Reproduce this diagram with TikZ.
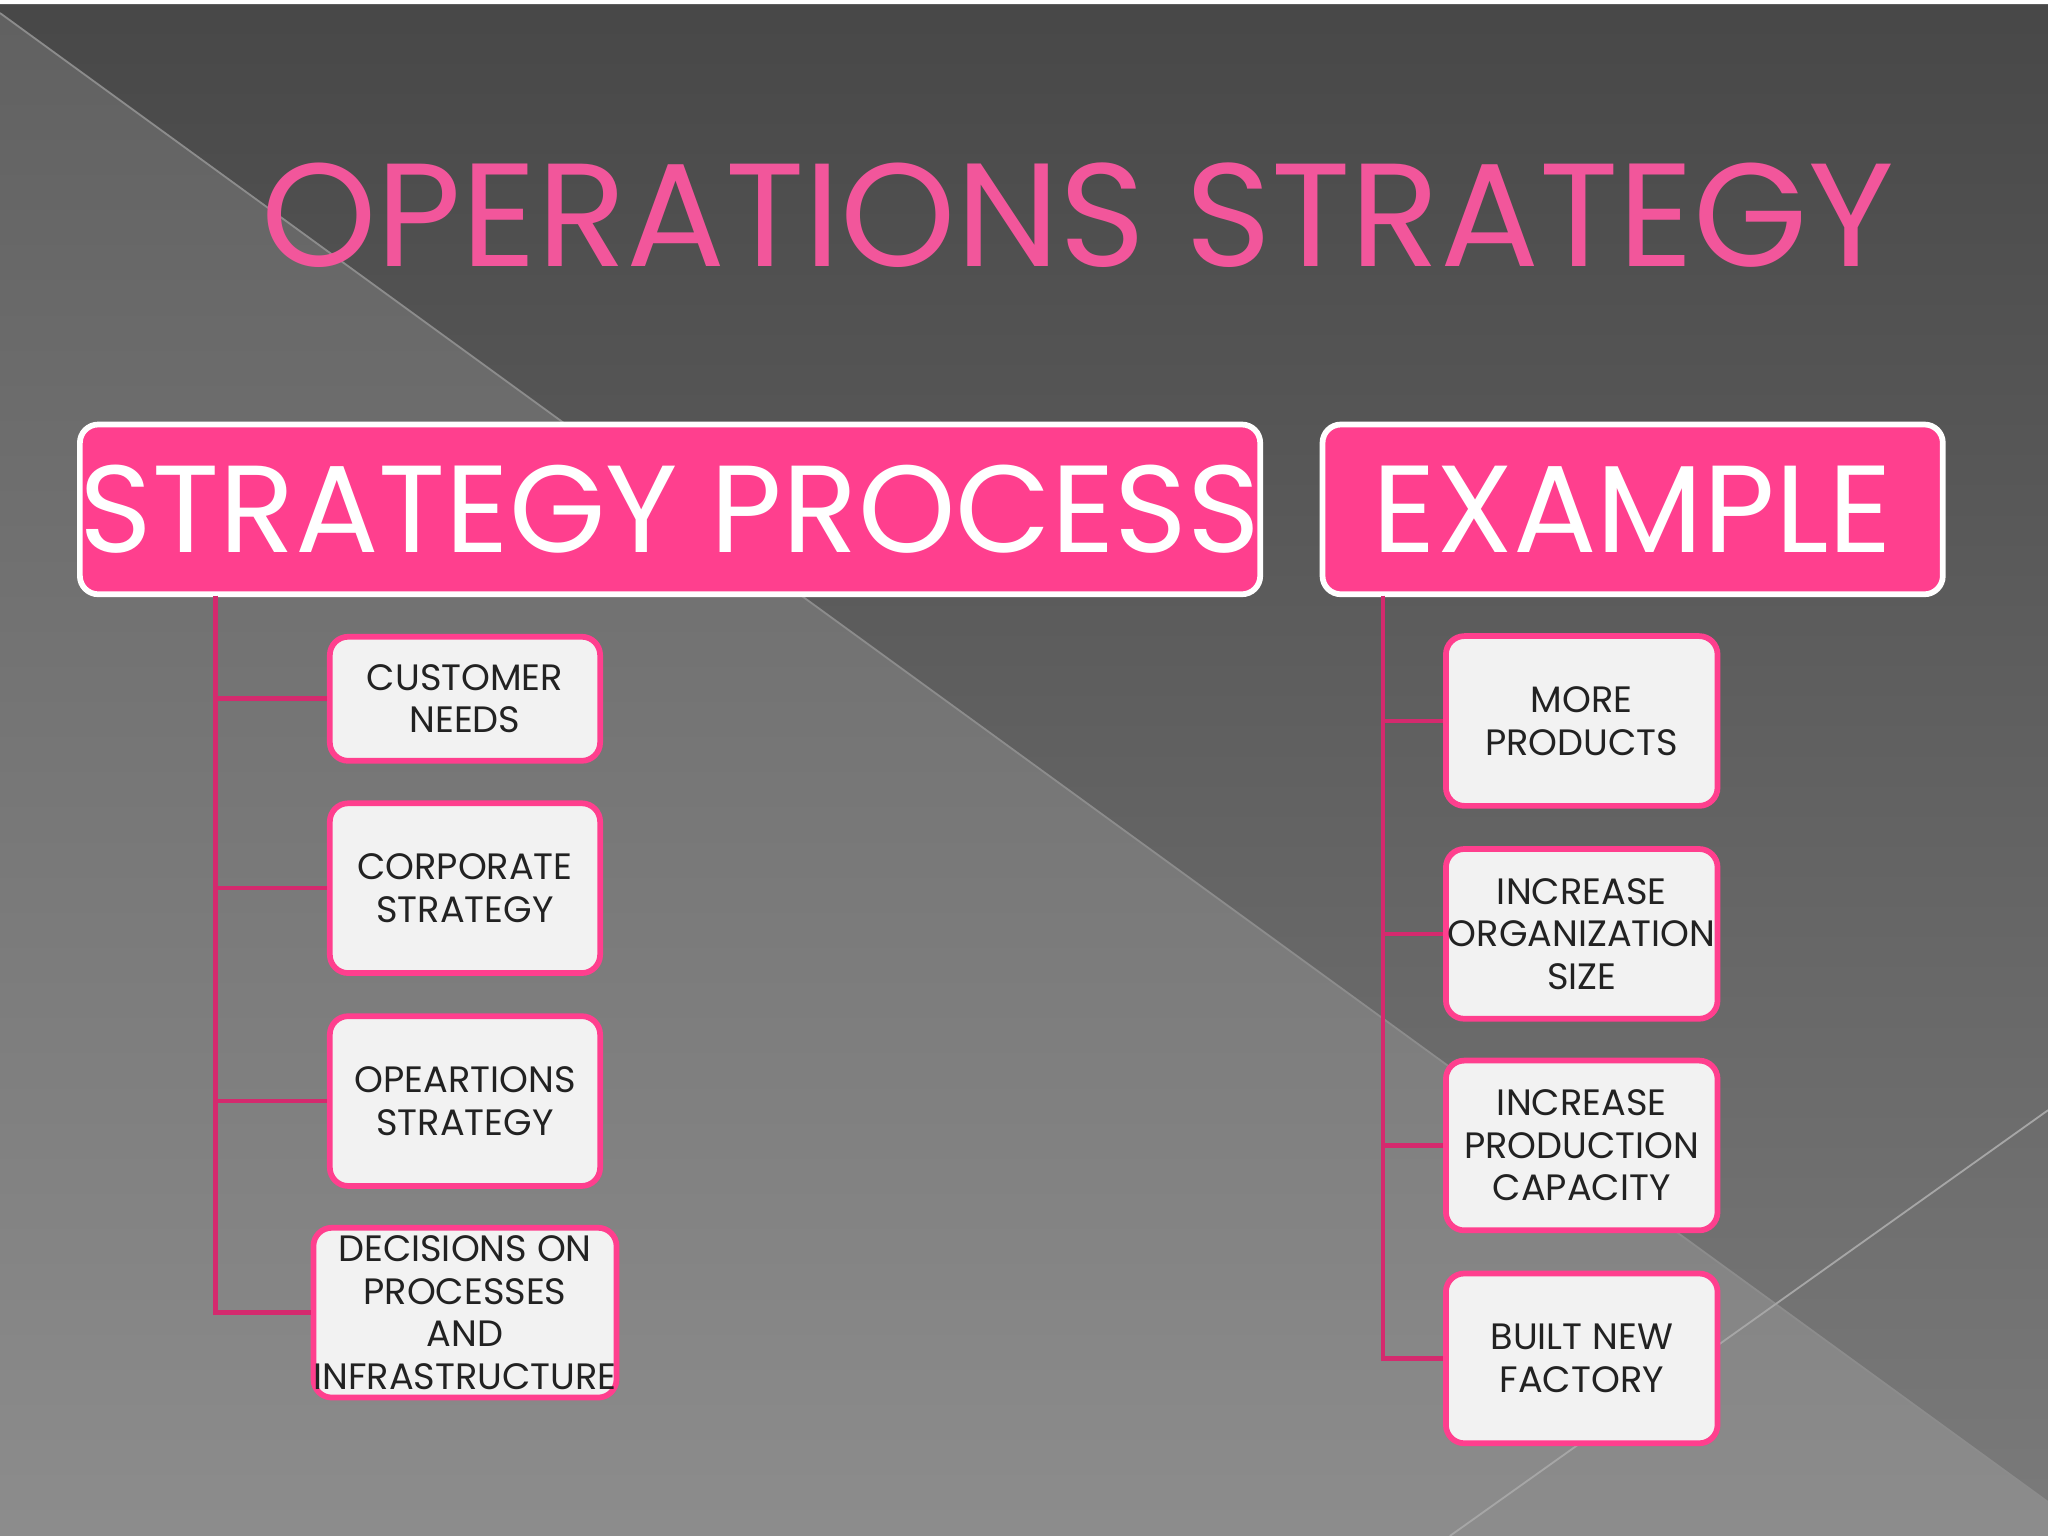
\documentclass[tikz,border=0pt]{standalone}
\usepackage{fontspec}
\setmainfont{Poppins}
\definecolor{pk}{HTML}{FF3F8E}
\definecolor{tpk}{HTML}{F2569B}
\definecolor{bx}{HTML}{F2F2F2}
\definecolor{tx}{HTML}{222222}
\definecolor{ln}{HTML}{D42A6E}
\begin{document}
\begin{tikzpicture}[x=0.02cm,y=-0.02cm,
  head/.style={draw=white,line width=2.5pt,fill=pk,rounded corners=8pt,text=white,font=\fontsize{54}{60}\selectfont,inner sep=0pt},
  item/.style={draw=pk,line width=2.5pt,fill=bx,rounded corners=8pt,text=tx,align=center,font=\fontsize{16}{18.5}\selectfont,inner sep=0pt},
  conn/.style={ln,line width=2pt}]
\useasboundingbox (0,0) rectangle (1568,1176);
\shade[top color=black!72,bottom color=black!52] (0,0) rectangle (1568,1176);
\shade[top color=black!62,bottom color=black!45] (0,10) -- (1568,1150) -- (1568,1176) -- (0,1176) -- cycle;
\draw[black!45,line width=0.8pt] (0,10) -- (1568,1150);
\draw[black!35,line width=0.8pt] (1568,850) -- (1110,1176);
\node[text=tpk,font=\fontsize{64}{70}\selectfont] (title) at (825,165) {OPERATIONS STRATEGY};
\node[head,minimum width=866\pgflinewidth,text width=0pt] at (0,0) {};
\node[head,minimum width=17.3cm,minimum height=2.6cm] (sp) at (513,390) {STRATEGY PROCESS};
\node[head,minimum width=9.5cm,minimum height=2.6cm] (ex) at (1250,390) {EXAMPLE};
% left items
\node[item,minimum width=4.14cm,minimum height=1.9cm] (a1) at (356,535) {CUSTOMER\\NEEDS};
\node[item,minimum width=4.14cm,minimum height=2.6cm] (a2) at (356,680) {CORPORATE\\STRATEGY};
\node[item,minimum width=4.14cm,minimum height=2.6cm] (a3) at (356,843) {OPEARTIONS\\STRATEGY};
\node[item,minimum width=4.14cm,minimum height=2.6cm] (a4) at (356,1005) {DECISIONS ON\\PROCESSES\\AND\\INFRASTRUCTURE};
\node[item,minimum width=4.16cm,minimum height=2.6cm] (b1) at (1211,552) {MORE\\PRODUCTS};
\node[item,minimum width=4.16cm,minimum height=2.6cm] (b2) at (1211,715) {INCREASE\\ORGANIZATION\\SIZE};
\node[item,minimum width=4.16cm,minimum height=2.6cm] (b3) at (1211,877) {INCREASE\\PRODUCTION\\CAPACITY};
\node[item,minimum width=4.16cm,minimum height=2.6cm] (b4) at (1211,1040) {BUILT NEW\\FACTORY};
\coordinate (lt) at (165,456);
\coordinate (rt) at (1059,456);
\draw[conn] (lt) |- (a4.west);
\foreach \n in {a1,a2,a3} \draw[conn] (lt |- \n.west) -- (\n.west);
\draw[conn] (rt) |- (b4.west);
\foreach \n in {b1,b2,b3} \draw[conn] (rt |- \n.west) -- (\n.west);
\end{tikzpicture}
\end{document}
